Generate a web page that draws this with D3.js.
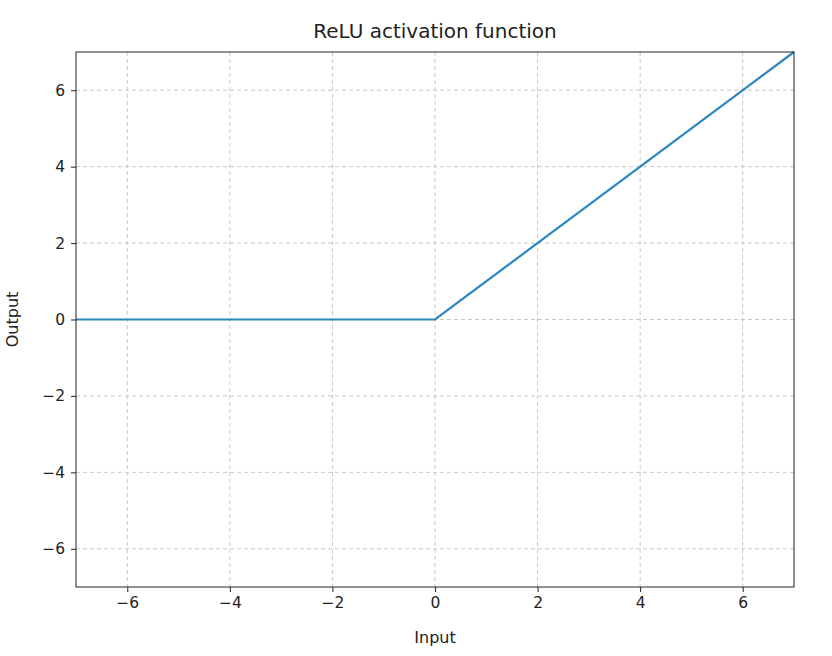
<!DOCTYPE html>
<html><head><meta charset="utf-8">
<script src="https://cdn.jsdelivr.net/npm/d3@7"></script>
<style>body{margin:0;background:#fff}text{font-family:"DejaVu Sans",sans-serif}</style>
</head><body><svg id="chart" width="832" height="656"></svg>
<script>
// ReLU breakpoints
const inputs = [-7, 0, 7];
const outputs = [0, 0, 7];
const xTicks = [-6, -4, -2, 0, 2, 4, 6];
const yTicks = [-6, -4, -2, 0, 2, 4, 6];

const m = { left: 76, right: 38, top: 52, bottom: 69 };
const W = 832, H = 656;
const svg = d3.select("#chart");
const x = d3.scaleLinear().domain([-7, 7]).range([m.left, W - m.right]);
const y = d3.scaleLinear().domain([-7, 7]).range([H - m.bottom, m.top]);
const fmt = (d) => (d < 0 ? "\u2212" + Math.abs(d) : String(d));

const grid = svg.append("g").attr("stroke", "#c8c8c8").attr("stroke-dasharray", "4,3");
xTicks.forEach((t) => grid.append("line").attr("x1", x(t)).attr("x2", x(t)).attr("y1", y(7)).attr("y2", y(-7)));
yTicks.forEach((t) => grid.append("line").attr("y1", y(t)).attr("y2", y(t)).attr("x1", x(-7)).attr("x2", x(7)));

const line = d3.line().x((d, i) => x(inputs[i])).y((d) => y(d));
svg.append("path").datum(outputs).attr("d", line)
	.attr("fill", "none").attr("stroke", "#2e86c1").attr("stroke-width", 2.2);

const xa = svg.append("g").attr("transform", `translate(0,${y(-7)})`)
	.call(d3.axisBottom(x).tickValues(xTicks).tickFormat(fmt).tickSize(5).tickPadding(5));
const ya = svg.append("g").attr("transform", `translate(${x(-7)},0)`)
	.call(d3.axisLeft(y).tickValues(yTicks).tickFormat(fmt).tickSize(5).tickPadding(6));
[xa, ya].forEach((a) => {
	a.select(".domain").remove();
	a.selectAll("text").attr("font-size", 15.5).attr("fill", "#222");
	a.selectAll("line").attr("stroke", "#222");
});
svg.append("rect").attr("x", x(-7)).attr("y", y(7)).attr("width", x(7) - x(-7)).attr("height", y(-7) - y(7))
	.attr("fill", "none").attr("stroke", "#222").attr("stroke-width", 1);

svg.append("text").attr("x", (x(-7) + x(7)) / 2).attr("y", 38).attr("text-anchor", "middle")
	.attr("font-size", 20).attr("fill", "#222").text("ReLU activation function");
svg.append("text").attr("x", (x(-7) + x(7)) / 2).attr("y", 643).attr("text-anchor", "middle")
	.attr("font-size", 16).attr("fill", "#222").text("Input");
svg.append("text").attr("transform", `translate(18,${(y(7) + y(-7)) / 2}) rotate(-90)`).attr("text-anchor", "middle")
	.attr("font-size", 16).attr("fill", "#222").text("Output");
</script></body></html>
